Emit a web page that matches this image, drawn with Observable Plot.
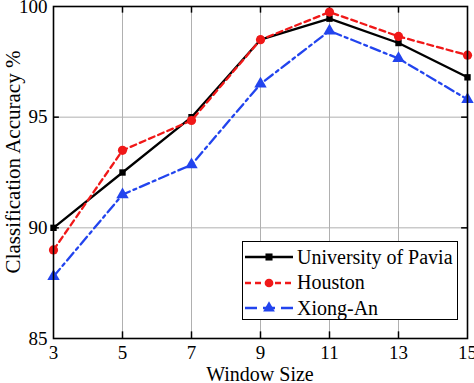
<!DOCTYPE html>
<html><head><meta charset="utf-8">
<script src="https://cdn.jsdelivr.net/npm/d3@7"></script>
<script src="https://cdn.jsdelivr.net/npm/@observablehq/plot@0.6"></script>
<style>
body{margin:0;background:#fff;}
#wrap{position:relative;width:474px;height:383px;font-family:"Liberation Serif","Times New Roman",serif;}
#legend{position:absolute;left:242px;top:241px;width:214px;height:77px;border:1.5px solid #000;background:#fff;box-sizing:content-box;}
.row{position:absolute;left:0;height:24px;display:flex;align-items:center;font-size:20px;color:#000;}
.row svg{margin-left:1px;margin-right:3px;}
</style>
</head><body>
<div id="wrap"></div>
<script>
const windowSizes = [3,5,7,9,11,13,15];
const pavia   = [90.0, 92.5, 95.0, 98.5, 99.45, 98.35, 96.8];
const houston = [89.0, 93.5, 94.85, 98.5, 99.75, 98.65, 97.8];
const xiongan = [87.8, 91.5, 92.85, 96.5, 98.9, 97.65, 95.8];
const seriesNames = ["University of Pavia","Houston","Xiong-An"];
const xTicks = [3,5,7,9,11,13,15];
const yTicks = [85,90,95,100];

const colors = ["#000000","#f01818","#2244ee"];
const dashes = [null,"6,4","10,4,3,4"];
const symbols = ["square","circle","triangle"];
const msize = [3.6,4.6,4.6];

const allSeries = [pavia,houston,xiongan];
const data = [];
allSeries.forEach((vals,si)=>vals.forEach((v,i)=>data.push({series:seriesNames[si], x:windowSizes[i], y:v, si})));

const marks = [
  Plot.ruleX(xTicks.slice(1,-1), {stroke:"#b0b0b0", strokeWidth:1}),
  Plot.ruleY(yTicks.slice(1,-1), {stroke:"#b0b0b0", strokeWidth:1}),
  Plot.ruleX(xTicks.slice(1,-1), {y1:85, y2:85.3, stroke:"#000", strokeWidth:1.5}),
  Plot.ruleX(xTicks.slice(1,-1), {y1:100, y2:99.7, stroke:"#000", strokeWidth:1.5}),
  Plot.ruleY(yTicks.slice(1,-1), {x1:3, x2:3.17, stroke:"#000", strokeWidth:1.5}),
  Plot.ruleY(yTicks.slice(1,-1), {x1:15, x2:14.83, stroke:"#000", strokeWidth:1.5}),
];
seriesNames.forEach((name,si)=>{
  const d = data.filter(e=>e.si===si);
  marks.push(Plot.line(d,{x:"x",y:"y",stroke:colors[si],strokeWidth:2.3,strokeDasharray:dashes[si]}));
  marks.push(Plot.dot(d,{x:"x",y:"y",fill:colors[si],stroke:"none",symbol:symbols[si],r:msize[si]}));
});
marks.push(Plot.frame({stroke:"#000", strokeWidth:1.6}));
marks.push(Plot.axisX(xTicks,{tickSize:0,tickPadding:7,fontSize:19,label:null}));
marks.push(Plot.axisY(yTicks,{tickSize:0,tickPadding:6,fontSize:19,label:null}));

const chart = Plot.plot({
  width:474, height:383,
  marginLeft:53, marginRight:7, marginTop:6, marginBottom:45,
  x:{domain:[3,15]},
  y:{domain:[85,100]},
  style:{fontFamily:'"Liberation Serif","Times New Roman",serif', fontSize:"19px", color:"#000", background:"#fff"},
  marks
});
const wrap = document.getElementById("wrap");
wrap.appendChild(chart);

const ns="http://www.w3.org/2000/svg";
function addText(txt,x,y,rot,size){
  const t=document.createElementNS(ns,"text");
  t.setAttribute("x",x);t.setAttribute("y",y);
  t.setAttribute("text-anchor","middle");
  t.setAttribute("font-size",size);
  t.setAttribute("font-family",'"Liberation Serif","Times New Roman",serif');
  t.setAttribute("fill","#000");
  if(rot) t.setAttribute("transform",`rotate(-90 ${x} ${y})`);
  t.textContent=txt;chart.appendChild(t);
}
addText("Window Size",260,381,false,20);
addText("Classification Accuracy %",20,162,true,21);

const leg=document.createElement("div");leg.id="legend";
seriesNames.forEach((name,si)=>{
  const r=document.createElement("div");r.className="row";r.style.top=(3+si*25.5)+"px";
  const s=document.createElementNS(ns,"svg");s.setAttribute("width","50");s.setAttribute("height","14");
  const l=document.createElementNS(ns,"line");
  l.setAttribute("x1","1");l.setAttribute("x2","49");l.setAttribute("y1","7");l.setAttribute("y2","7");
  l.setAttribute("stroke",colors[si]);l.setAttribute("stroke-width","2.3");
  if(dashes[si]) l.setAttribute("stroke-dasharray", si===1?"6,4":"12,6");
  s.appendChild(l);
  const p=document.createElementNS(ns,"path");
  p.setAttribute("d",d3.symbol(si===0?d3.symbolSquare:si===1?d3.symbolCircle:d3.symbolTriangle, si===0?50:60)());
  p.setAttribute("transform","translate(25,7)");p.setAttribute("fill",colors[si]);
  s.appendChild(p);
  r.appendChild(s);
  const sp=document.createElement("span");sp.textContent=name;r.appendChild(sp);
  leg.appendChild(r);
});
wrap.appendChild(leg);
</script>
</body></html>
